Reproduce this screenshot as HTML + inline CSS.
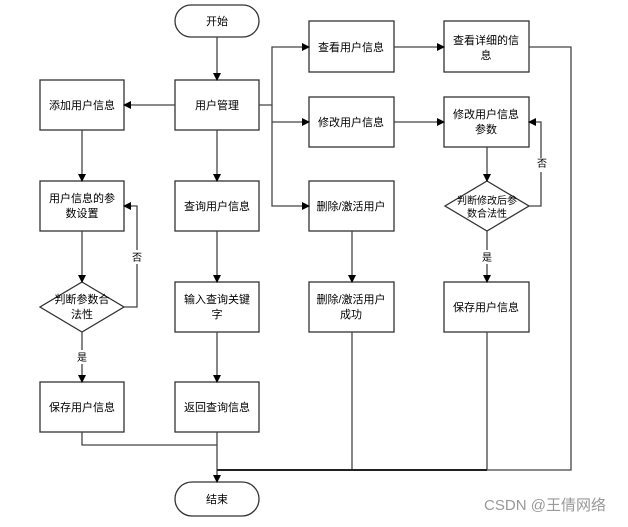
<!DOCTYPE html>
<html><head><meta charset="utf-8"><style>
body{margin:0;background:#fff}
text{font-family:"Liberation Sans","Noto Sans CJK SC",sans-serif;font-size:11px;fill:#000;text-anchor:middle}
</style></head><body>
<svg width="628" height="522" xmlns="http://www.w3.org/2000/svg">
<defs><marker id="a" markerWidth="8" markerHeight="8" refX="7" refY="4" orient="auto" markerUnits="userSpaceOnUse"><path d="M0,0L8,4L0,8z" fill="#000"/></marker></defs>
<g fill="#fff" stroke="#333" stroke-width="1.3">
<rect x="175" y="5" width="84" height="32" rx="16"/>
<rect x="175" y="80" width="84" height="50"/>
<rect x="40" y="80" width="84" height="50"/>
<rect x="40" y="181" width="84" height="50"/>
<rect x="175" y="181" width="84" height="50"/>
<rect x="309" y="21" width="85" height="51"/>
<rect x="444" y="21" width="85" height="51"/>
<rect x="309" y="97" width="85" height="50"/>
<rect x="444" y="97" width="85" height="50"/>
<rect x="309" y="181" width="85" height="50"/>
<path d="M487,181L529,206L487,231L445,206z"/>
<path d="M82,282L124,307L82,332L40,307z"/>
<rect x="175" y="282" width="84" height="50"/>
<rect x="309" y="282" width="85" height="50"/>
<rect x="444" y="282" width="85" height="50"/>
<rect x="40" y="382" width="84" height="50"/>
<rect x="175" y="382" width="84" height="50"/>
<rect x="175" y="482" width="84" height="34" rx="17"/>
</g>
<g fill="none" stroke="#444" stroke-width="1.3" marker-end="url(#a)">
<path d="M217,37V80"/>
<path d="M175,105H124"/>
<path d="M82,130V181"/>
<path d="M217,130V181"/>
<path d="M259,105H272V47H309"/>
<path d="M272,122H309"/>
<path d="M272,105V206H309"/>
<path d="M394,47H444"/>
<path d="M394,122H444"/>
<path d="M487,147V181"/>
<path d="M529,206H541V122H529"/>
<path d="M487,231V282"/>
<path d="M352,231V282"/>
<path d="M217,231V282"/>
<path d="M217,332V382"/>
<path d="M82,231V282"/>
<path d="M124,307H137V206H124"/>
<path d="M82,332V382"/>
<path d="M217,432V482"/>
</g>
<g fill="none" stroke="#444" stroke-width="1.3">
<path d="M82,432V445H217"/>
<path d="M352,332V470"/>
<path d="M487,332V470"/>
<path d="M529,47H571V470H217" />
</g>
<path d="M217,470H487" stroke="#222" stroke-width="2"/>
<g fill="#fff" stroke="none">
<rect x="130" y="250" width="14" height="14"/><rect x="75" y="350" width="14" height="14"/>
<rect x="535" y="158" width="14" height="14"/><rect x="480" y="250" width="14" height="14"/>
</g>
<text x="217" y="25">开始</text>
<text x="217" y="109">用户管理</text>
<text x="82" y="109">添加用户信息</text>
<text x="82" y="202">用户信息的参</text><text x="82" y="217">数设置</text>
<text x="217" y="210">查询用户信息</text>
<text x="351" y="51">查看用户信息</text>
<text x="486" y="44">查看详细的信</text><text x="486" y="59">息</text>
<text x="351" y="126">修改用户信息</text>
<text x="486" y="118">修改用户信息</text><text x="486" y="133">参数</text>
<text x="351" y="210">删除/激活用户</text>
<text x="487" y="204" style="font-size:10px">判断修改后参</text><text x="487" y="217" style="font-size:10px">数合法性</text>
<text x="82" y="303">判断参数合</text><text x="82" y="318">法性</text>
<text x="217" y="303">输入查询关键</text><text x="217" y="318">字</text>
<text x="351" y="303">删除/激活用户</text><text x="351" y="318">成功</text>
<text x="486" y="311">保存用户信息</text>
<text x="82" y="411">保存用户信息</text>
<text x="217" y="411">返回查询信息</text>
<text x="217" y="503">结束</text>
<text x="137" y="261" style="font-size:10px">否</text>
<text x="82" y="361" style="font-size:10px">是</text>
<text x="542" y="167" style="font-size:10px">否</text>
<text x="487" y="261" style="font-size:10px">是</text>
<text x="545" y="510" style="font-size:15px;fill:#999">CSDN @王倩网络</text>
</svg>
</body></html>
